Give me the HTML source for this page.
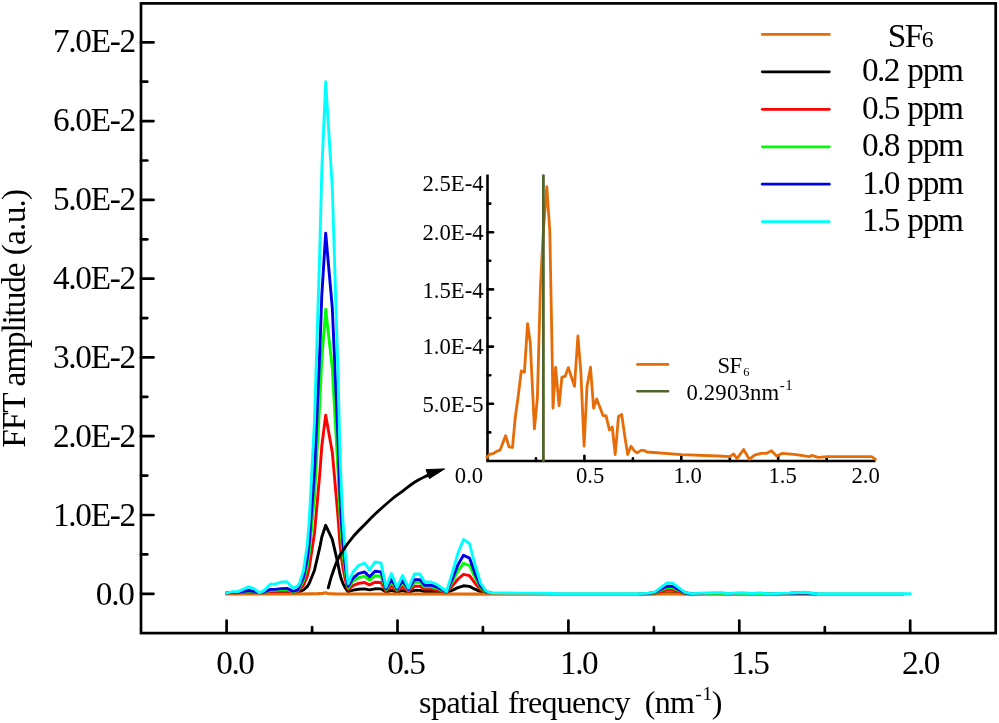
<!DOCTYPE html>
<html lang="en">
<head>
<meta charset="utf-8">
<title>FFT amplitude vs spatial frequency</title>
<style>
html,body{margin:0;padding:0;background:#fff;}
body{width:999px;height:723px;overflow:hidden;}
svg{display:block;}
</style>
</head>
<body>
<svg width="999" height="723" viewBox="0 0 999 723">
<rect width="999" height="723" fill="#fff"/>
<g fill="none" stroke-width="2.9" stroke-linejoin="round" stroke-linecap="round">
<path stroke="#000" d="M226.6,592.9 L232.0,592.9 L238.0,592.8 L243.0,592.8 L248.5,592.7 L254.0,592.7 L259.5,592.9 L264.0,592.8 L270.5,592.5 L275.0,592.5 L281.0,592.5 L287.0,592.4 L293.0,592.7 L297.5,592.6 L299.5,591.6 L303.5,590.0 L307.2,586.6 L309.3,583.3 L311.9,576.7 L314.5,570.2 L319.8,547.4 L321.8,537.0 L325.7,525.3 L332.3,539.4 L337.9,563.4 L339.9,574.0 L341.4,579.3 L342.9,583.3 L345.0,587.4 L347.2,590.7 L348.2,591.7 L353.0,590.1 L358.5,589.3 L364.5,588.9 L369.5,589.9 L375.0,588.8 L381.0,588.9 L386.0,592.1 L391.5,590.3 L397.0,592.2 L402.5,590.6 L408.5,592.3 L414.5,590.4 L420.0,590.4 L424.5,591.5 L431.0,591.5 L436.0,591.7 L442.0,592.3 L446.5,592.7 L452.0,590.4 L458.0,587.6 L463.5,585.8 L469.5,586.4 L475.0,589.2 L480.5,591.6 L486.0,592.6 L491.0,592.9 M640.0,593.7 L649.0,593.7 L655.0,593.7 L661.0,593.4 L667.0,593.2 L672.5,593.2 L679.0,593.5 L685.0,593.7 L691.0,593.7 L706.0,593.7 L722.0,593.7 L728.0,593.7 L736.0,593.7 L744.0,593.7 L752.0,593.7 L760.0,593.7 L768.0,593.8 L790.0,593.7 L804.0,593.7 L816.0,593.8"/>
<polyline stroke="#e66c08" stroke-width="3.2" points="226.6,594.0 300.0,594.0 318.0,593.7 323.0,593.4 325.5,592.8 328.0,593.5 335.0,593.9 400.0,594.0 560.0,594.2 640.0,594.2 655.0,594.0 668.0,593.8 680.0,594.0 690.0,594.2 700.0,594.0 720.0,593.9 740.0,594.2 903.5,594.2"/>
<path stroke="#f00" d="M226.6,592.9 L232.0,592.7 L238.0,592.7 L243.0,592.3 L248.5,591.9 L254.0,592.2 L259.5,592.9 L264.0,592.5 L270.5,591.4 L275.0,591.4 L281.0,591.1 L287.0,591.0 L293.0,592.1 L297.5,591.7 L299.5,589.6 L303.5,585.2 L307.2,576.4 L309.3,567.6 L311.9,550.2 L314.5,533.2 L319.8,473.4 L321.8,446.0 L325.7,415.3 L332.3,452.2 L337.9,515.5 L339.9,543.3 L341.4,557.2 L342.9,567.6 L345.0,578.3 L347.2,587.0 L348.2,589.6 L353.0,585.6 L358.5,583.4 L364.5,582.5 L369.5,584.9 L375.0,582.2 L381.0,582.5 L386.0,590.9 L391.5,586.2 L397.0,591.0 L402.5,586.9 L408.5,591.2 L414.5,586.3 L420.0,586.3 L424.5,589.1 L431.0,589.1 L436.0,589.8 L442.0,591.2 L446.5,592.4 L452.0,586.3 L458.0,579.0 L463.5,574.3 L469.5,575.7 L475.0,583.2 L480.5,589.5 L486.0,592.2 L491.0,592.9 M640.0,593.7 L649.0,593.5 L655.0,593.1 L661.0,591.5 L667.0,590.0 L672.5,590.0 L679.0,591.7 L685.0,593.3 L691.0,593.7 L706.0,593.5 L722.0,593.4 L728.0,593.7 L736.0,593.5 L744.0,593.4 L752.0,593.7 L760.0,593.4 L768.0,593.8 L790.0,593.5 L804.0,593.2 L816.0,593.8"/>
<path stroke="#0f0" d="M226.6,592.9 L232.0,592.6 L238.0,592.5 L243.0,591.9 L248.5,591.1 L254.0,591.6 L259.5,592.9 L264.0,592.2 L270.5,590.3 L275.0,590.3 L281.0,589.7 L287.0,589.5 L293.0,591.5 L297.5,590.9 L299.5,587.6 L303.5,580.6 L307.2,566.6 L309.3,552.5 L311.9,524.7 L314.5,497.5 L319.8,402.1 L321.8,358.3 L325.7,309.3 L332.3,368.3 L337.9,469.2 L339.9,513.6 L341.4,535.8 L342.9,552.5 L345.0,569.7 L347.2,583.5 L348.2,587.7 L353.0,581.3 L358.5,577.7 L364.5,576.3 L369.5,580.2 L375.0,575.8 L381.0,576.3 L386.0,589.6 L391.5,582.1 L397.0,589.9 L402.5,583.2 L408.5,590.2 L414.5,582.4 L420.0,582.4 L424.5,586.9 L431.0,586.9 L436.0,588.0 L442.0,590.2 L446.5,592.1 L452.0,582.4 L458.0,570.8 L463.5,563.3 L469.5,565.5 L475.0,577.4 L480.5,587.4 L486.0,591.8 L491.0,592.9 M649.0,593.4 L655.0,592.7 L661.0,590.2 L667.0,587.8 L672.5,587.8 L679.0,590.5 L685.0,593.0 L691.0,593.7 M706.0,593.4 L722.0,593.1 L728.0,593.7 M736.0,593.4 L744.0,593.3 L752.0,593.6 L760.0,593.3 L768.0,593.8 M790.0,593.4 L804.0,592.9 L816.0,593.8"/>
<path stroke="#0000e6" d="M226.6,592.9 L232.0,592.5 L238.0,592.4 L243.0,591.5 L248.5,590.5 L254.0,591.2 L259.5,592.9 L264.0,592.0 L270.5,589.4 L275.0,589.4 L281.0,588.6 L287.0,588.4 L293.0,591.1 L297.5,590.2 L299.5,586.1 L303.5,577.3 L307.2,559.5 L309.3,541.6 L311.9,506.4 L314.5,471.9 L319.8,350.9 L321.8,295.3 L325.7,233.2 L332.3,307.9 L337.9,436.0 L339.9,492.3 L341.4,520.5 L342.9,541.6 L345.0,563.4 L347.2,581.0 L348.2,586.3 L353.0,578.2 L358.5,573.6 L364.5,571.9 L369.5,576.8 L375.0,571.2 L381.0,571.9 L386.0,588.7 L391.5,579.2 L397.0,589.1 L402.5,580.7 L408.5,589.5 L414.5,579.6 L420.0,579.6 L424.5,585.2 L431.0,585.2 L436.0,586.6 L442.0,589.5 L446.5,591.9 L452.0,579.6 L458.0,564.8 L463.5,555.3 L469.5,558.1 L475.0,573.3 L480.5,585.9 L486.0,591.6 L491.0,592.9 M649.0,593.3 L655.0,592.4 L661.0,589.2 L667.0,586.2 L672.5,586.2 L679.0,589.6 L685.0,592.8 L691.0,593.7 M790.0,593.3 L804.0,592.7 L816.0,593.8"/>
<polyline stroke="#0ff" points="226.6,592.9 232.0,591.8 238.0,591.6 243.0,589.4 248.5,586.8 254.0,588.6 259.5,592.9 264.0,590.6 270.5,584.1 275.0,584.1 281.0,582.1 287.0,581.6 293.0,588.4 297.5,586.1 299.5,583.3 303.5,570.7 307.2,545.5 309.3,520.0 311.9,470.0 314.5,421.0 319.8,249.0 321.8,170.0 325.7,81.8 332.3,188.0 337.9,370.0 339.9,450.0 341.4,490.0 342.9,520.0 345.0,551.0 347.2,576.0 348.2,583.5 353.0,572.0 358.5,565.5 364.5,563.0 369.5,570.0 375.0,562.0 381.0,563.0 386.0,587.0 391.5,573.5 397.0,587.5 402.5,575.5 408.5,588.0 414.5,574.0 420.0,574.0 424.5,582.0 431.0,582.0 436.0,584.0 442.0,588.0 446.5,591.5 452.0,574.0 458.0,553.0 463.5,539.5 469.5,543.5 475.0,565.0 480.5,583.0 486.0,591.0 491.0,592.9 520.0,593.1 545.0,593.3 560.0,593.7 640.0,593.6 649.0,593.1 655.0,591.9 661.0,587.4 667.0,583.0 672.5,583.0 679.0,587.9 685.0,592.4 691.0,593.6 706.0,593.0 722.0,592.6 728.0,593.6 736.0,593.0 744.0,592.9 752.0,593.5 760.0,592.9 768.0,593.8 790.0,593.1 804.0,592.2 816.0,593.8 910.2,593.8"/>
</g>
<path d="M328.3,587.8 C328.8,586.1 329.7,581.9 331.1,577.6 C332.5,573.3 334.8,566.4 336.6,562.1 C338.4,557.8 339.3,555.9 342.1,551.6 C344.9,547.4 349.5,541.0 353.2,536.6 C356.9,532.2 360.7,528.7 364.3,525.0 C367.9,521.3 370.4,518.5 374.9,514.3 C379.4,510.0 387.1,503.2 391.5,499.5 C395.9,495.8 397.3,495.1 401.0,492.3 C404.7,489.5 409.4,485.5 413.8,482.7 C418.2,479.9 425.2,476.6 427.5,475.4" fill="none" stroke="#000" stroke-width="2.9" stroke-linecap="round"/>
<polygon points="444.6,468.9 426.1,469.6 427.8,474.5 429.4,478.6" fill="#000" stroke="#000" stroke-width="1" stroke-linejoin="round"/>
<rect x="141" y="3.4" width="854.7" height="629.7" fill="none" stroke="#000" stroke-width="2.7"/>
<g stroke="#000" stroke-width="2.7" stroke-linecap="round">
<line x1="141" y1="593.8" x2="153.5" y2="593.8"/>
<line x1="141" y1="554.4" x2="147.3" y2="554.4"/>
<line x1="141" y1="515.0" x2="153.5" y2="515.0"/>
<line x1="141" y1="475.6" x2="147.3" y2="475.6"/>
<line x1="141" y1="436.2" x2="153.5" y2="436.2"/>
<line x1="141" y1="396.8" x2="147.3" y2="396.8"/>
<line x1="141" y1="357.4" x2="153.5" y2="357.4"/>
<line x1="141" y1="318.1" x2="147.3" y2="318.1"/>
<line x1="141" y1="278.7" x2="153.5" y2="278.7"/>
<line x1="141" y1="239.3" x2="147.3" y2="239.3"/>
<line x1="141" y1="199.9" x2="153.5" y2="199.9"/>
<line x1="141" y1="160.5" x2="147.3" y2="160.5"/>
<line x1="141" y1="121.1" x2="153.5" y2="121.1"/>
<line x1="141" y1="81.7" x2="147.3" y2="81.7"/>
<line x1="141" y1="42.4" x2="153.5" y2="42.4"/>
<line x1="226.6" y1="633" x2="226.6" y2="620.6"/>
<line x1="312.1" y1="633" x2="312.1" y2="627"/>
<line x1="397.5" y1="633" x2="397.5" y2="620.6"/>
<line x1="482.9" y1="633" x2="482.9" y2="627"/>
<line x1="568.4" y1="633" x2="568.4" y2="620.6"/>
<line x1="653.9" y1="633" x2="653.9" y2="627"/>
<line x1="739.3" y1="633" x2="739.3" y2="620.6"/>
<line x1="824.8" y1="633" x2="824.8" y2="627"/>
<line x1="910.2" y1="633" x2="910.2" y2="620.6"/>
</g>
<g font-family="'Liberation Serif', 'Times New Roman', serif" fill="#000">
<g font-size="33.3" text-anchor="end" letter-spacing="-1.3">
<text x="133.6" y="604.8">0.0</text>
<text x="134.9" y="525.8">1.0E-2</text>
<text x="134.9" y="446.9">2.0E-2</text>
<text x="134.9" y="367.9">3.0E-2</text>
<text x="134.9" y="288.9">4.0E-2</text>
<text x="134.9" y="210.0">5.0E-2</text>
<text x="134.9" y="131.0">6.0E-2</text>
<text x="134.9" y="52.1">7.0E-2</text>
</g>
<g font-size="33.3">
<text x="216.3" y="674" letter-spacing="-1.5">0.0</text>
<text x="387.2" y="674" letter-spacing="-1.5">0.5</text>
<text x="560.1" y="674" letter-spacing="-1.5">1.0</text>
<text x="731.3" y="674" letter-spacing="-1.5">1.5</text>
<text x="901.9" y="674" letter-spacing="-1.5">2.0</text>
<text y="713.2" font-size="32"><tspan x="419.1" letter-spacing="-0.55">spatial</tspan> <tspan x="508.1" letter-spacing="-0.7">frequency</tspan> <tspan x="644.7" letter-spacing="-0.65">(nm</tspan><tspan x="695.2" y="699.8" font-size="19.3" letter-spacing="0.9">-1</tspan><tspan x="711.7" y="713.2">)</tspan></text>
<text transform="translate(24.8,447.8) rotate(-90)" letter-spacing="-0.95">FFT <tspan letter-spacing="-1.15">amplitude</tspan> <tspan dx="1.0" letter-spacing="-0.75">(a.u.)</tspan></text>
</g>
<g stroke-width="2.8" stroke-linecap="round">
<line x1="762.3" y1="34.4" x2="829.3" y2="34.4" stroke="#e66c08"/>
<line x1="762.3" y1="71.8" x2="829.3" y2="71.8" stroke="#000"/>
<line x1="762.3" y1="109.3" x2="829.3" y2="109.3" stroke="#f00"/>
<line x1="762.3" y1="146.8" x2="829.3" y2="146.8" stroke="#0f0"/>
<line x1="762.3" y1="184.2" x2="829.3" y2="184.2" stroke="#0000e6"/>
<line x1="762.3" y1="221.7" x2="829.3" y2="221.7" stroke="#0ff"/>
</g>
<g font-size="33.3">
<text x="887.8" y="46.7" letter-spacing="-1.5">SF<tspan font-size="23.5">6</tspan></text>
<text x="862" y="81.2" letter-spacing="-1.6">0.2 <tspan x="907.3" letter-spacing="-1.3">ppm</tspan></text>
<text x="862" y="118.7" letter-spacing="-1.6">0.5 <tspan x="907.3" letter-spacing="-1.3">ppm</tspan></text>
<text x="862" y="156.2" letter-spacing="-1.6">0.8 <tspan x="907.3" letter-spacing="-1.3">ppm</tspan></text>
<text x="862" y="193.7" letter-spacing="-1.6">1.0 <tspan x="907.3" letter-spacing="-1.3">ppm</tspan></text>
<text x="862" y="231.2" letter-spacing="-1.6">1.5 <tspan x="907.3" letter-spacing="-1.3">ppm</tspan></text>
</g>
<g stroke="#000" stroke-width="2.6" stroke-linecap="round" fill="none">
<polyline points="487.5,174.4 487.5,461 875.5,461" stroke-linejoin="miter" stroke-linecap="butt"/>
<line x1="487.5" y1="403.8" x2="493" y2="403.8"/>
<line x1="487.5" y1="346.6" x2="493" y2="346.6"/>
<line x1="487.5" y1="289.4" x2="493" y2="289.4"/>
<line x1="487.5" y1="232.2" x2="493" y2="232.2"/>
<line x1="487.5" y1="432.4" x2="490.3" y2="432.4"/>
<line x1="487.5" y1="375.2" x2="490.3" y2="375.2"/>
<line x1="487.5" y1="318.0" x2="490.3" y2="318.0"/>
<line x1="487.5" y1="260.8" x2="490.3" y2="260.8"/>
<line x1="487.5" y1="203.6" x2="490.3" y2="203.6"/>
<line x1="584.4" y1="461" x2="584.4" y2="455.7"/>
<line x1="681.3" y1="461" x2="681.3" y2="455.7"/>
<line x1="778.2" y1="461" x2="778.2" y2="455.7"/>
<line x1="536.0" y1="461" x2="536.0" y2="458.4"/>
<line x1="632.9" y1="461" x2="632.9" y2="458.4"/>
<line x1="729.8" y1="461" x2="729.8" y2="458.4"/>
<line x1="826.7" y1="461" x2="826.7" y2="458.4"/>
</g>
<g fill="none" stroke-linejoin="round" stroke-linecap="round">
<polyline stroke="#e66c08" stroke-width="2.8" points="486.9,457.4 489.7,454.1 493.1,453.7 496.6,451.3 500.0,450.2 505.6,435.7 509.0,446.8 512.5,447.5 515.3,417.0 518.0,397.7 521.3,371.0 524.4,372.3 527.6,323.6 530.3,343.0 534.4,428.8 537.4,397.7 540.5,285.0 543.3,232.0 546.8,186.6 549.8,231.0 552.4,367.4 553.0,408.0 555.6,367.4 559.1,405.7 561.9,377.2 565.2,376.3 568.3,367.6 571.4,377.0 574.5,386.4 577.9,336.0 580.8,371.0 584.1,446.2 587.0,386.4 590.5,367.2 593.6,408.2 596.7,398.9 599.9,407.2 603.0,415.5 606.1,415.9 609.4,430.0 612.3,427.0 615.2,454.5 618.5,416.5 621.7,414.5 624.8,436.3 627.7,454.5 631.0,446.2 634.3,450.8 637.2,452.9 641.0,450.4 644.1,450.4 647.2,452.0 681.6,454.7 718.0,456.0 729.8,456.7 733.7,454.0 737.0,458.6 743.6,449.5 749.3,459.3 754.5,455.2 761.0,453.4 766.2,453.4 771.4,450.8 776.6,456.0 781.9,453.4 788.4,453.9 796.2,454.7 809.2,456.7 811.8,455.4 818.3,457.3 827.4,456.7 871.6,456.7 875.5,459.3"/>
<line x1="543.4" y1="175.6" x2="543.4" y2="461" stroke="#51652a" stroke-width="2.8"/>
</g>
<g font-size="22.7" text-anchor="end">
<text x="483.6" y="190.5">2.5E-4</text>
<text x="483.6" y="239.7">2.0E-4</text>
<text x="483.6" y="297.7">1.5E-4</text>
<text x="483.6" y="354">1.0E-4</text>
<text x="483.6" y="411.9">5.0E-5</text>
</g>
<g font-size="22.7">
<text x="454.8" y="482.6">0.0</text>
<text x="576" y="482.8">0.5</text>
<text x="673.5" y="482.8">1.0</text>
<text x="768.5" y="482.8">1.5</text>
<text x="851.5" y="482.8">2.0</text>
</g>
<g stroke-width="2.6" stroke-linecap="round">
<line x1="637.5" y1="364.4" x2="668" y2="364.4" stroke="#e66c08"/>
<line x1="637.5" y1="391.2" x2="668" y2="391.2" stroke="#51652a"/>
</g>
<g font-size="22.7">
<text x="717.6" y="372.8" letter-spacing="-0.6">SF<tspan font-size="12.5" x="743.2" y="376.2">6</tspan></text>
<text x="686.4" y="399.7" letter-spacing="0.2">0.2903nm<tspan font-size="14.8" x="779.8" y="389.5" letter-spacing="0.6">-1</tspan></text>
</g>
</g>
</svg>
</body>
</html>
